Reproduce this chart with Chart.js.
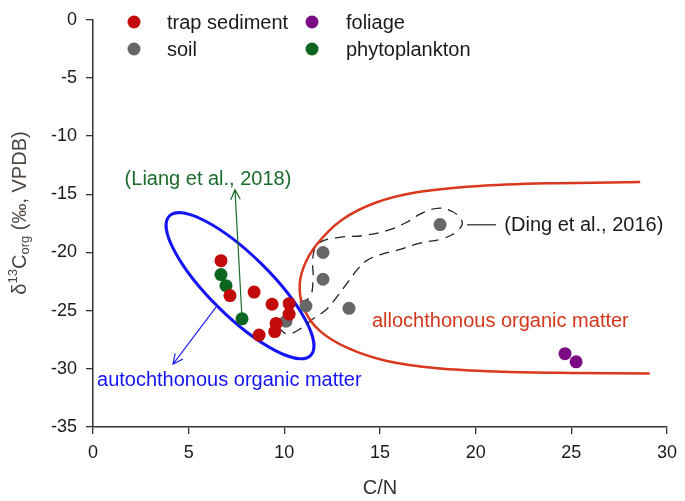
<!DOCTYPE html>
<html>
<head>
<meta charset="utf-8">
<script src="https://cdn.jsdelivr.net/npm/chart.js@4.4.0/dist/chart.umd.min.js"></script>
<style>
  html, body { margin: 0; padding: 0; background: #fff; }
  #wrap { width: 685px; height: 501px; }
</style>
</head>
<body>
<div id="wrap"><canvas id="chart"></canvas></div>
<script>
// values
const trapCN = [6.69, 7.16, 8.42, 9.36, 10.25, 10.25, 9.57, 9.5, 8.68];
const trapD13C = [-20.7, -23.7, -23.4, -24.45, -24.4, -25.3, -26.1, -26.8, -27.1];
const soilCN = [11.13, 10.09, 12.02, 12.02, 13.38, 18.14];
const soilD13C = [-24.6, -25.9, -20.0, -22.3, -24.8, -17.6];
const foliageCN = [24.67, 25.25];
const foliageD13C = [-28.7, -29.4];
const phytoCN = [6.69, 6.95, 7.79];
const phytoD13C = [-21.9, -22.85, -25.7];

// allochthonous boundary (red curve)
const alloCN = [28.6, 24.0, 20.0, 17.0, 14.8, 13.0, 11.7, 11.0, 10.8, 11.1, 11.9, 13.3, 15.3, 18.0, 21.5, 25.0, 29.1];
const alloD13C = [-13.95, -14.05, -14.3, -14.8, -15.7, -17.2, -19.3, -21.3, -23.2, -25.1, -26.8, -28.2, -29.3, -29.95, -30.25, -30.35, -30.4];

// Ding et al. soil envelope (dashed loop)
const dingCN = [9.67, 10.0, 10.6, 11.3, 11.5, 11.5, 11.8, 12.9, 14.1, 15.4, 16.4, 17.1, 18.0, 18.8, 19.3, 19.0, 18.3, 17.1, 15.9, 15.0, 14.3, 13.8, 13.3, 12.8, 12.2, 11.5, 10.8, 10.14, 9.67];
const dingD13C = [-26.4, -25.3, -24.4, -23.9, -22.5, -20.3, -19.2, -18.7, -18.55, -18.1, -17.4, -16.7, -16.2, -16.5, -17.4, -18.2, -18.8, -19.2, -19.8, -20.2, -20.7, -21.5, -22.6, -23.7, -24.9, -25.7, -26.6, -27.0, -26.4];

// autochthonous ellipse: ends of the long axis and one end of the short axis
const ellipseMajor = [[3.99, -16.86], [11.38, -28.84]];
const ellipseMinor = [8.83, -21.02];

const xTicks = [0, 5, 10, 15, 20, 25, 30];
const yTicks = [0, -5, -10, -15, -20, -25, -30, -35];

function pts(xs, ys) {
  return xs.map((x, i) => ({ x: x, y: ys[i] }));
}

const FONT = '"Liberation Sans", Arial, sans-serif';

const extras = {
  id: 'extras',
  beforeDatasetsDraw(chart) {
    const ctx = chart.ctx;
    const xs = chart.scales.x, ys = chart.scales.y;
    const px = v => xs.getPixelForValue(v), py = v => ys.getPixelForValue(v);
    // blue ellipse
    const a1 = [px(ellipseMajor[0][0]), py(ellipseMajor[0][1])];
    const a2 = [px(ellipseMajor[1][0]), py(ellipseMajor[1][1])];
    const cx = (a1[0] + a2[0]) / 2, cy = (a1[1] + a2[1]) / 2;
    const rx = Math.hypot(a2[0] - a1[0], a2[1] - a1[1]) / 2;
    const ry = Math.hypot(px(ellipseMinor[0]) - cx, py(ellipseMinor[1]) - cy);
    const rot = Math.atan2(a2[1] - a1[1], a2[0] - a1[0]);
    ctx.save();
    ctx.strokeStyle = '#1414f5';
    ctx.lineWidth = 3;
    ctx.beginPath();
    ctx.ellipse(cx, cy, rx, ry, rot, 0, Math.PI * 2);
    ctx.stroke();
    ctx.restore();
  },
  afterDatasetsDraw(chart) {
    const ctx = chart.ctx;
    const xs = chart.scales.x, ys = chart.scales.y;
    const px = v => xs.getPixelForValue(v), py = v => ys.getPixelForValue(v);

    function arrow(x1, y1, x2, y2, color) {
      const X1 = px(x1), Y1 = py(y1), X2 = px(x2), Y2 = py(y2);
      const ang = Math.atan2(Y2 - Y1, X2 - X1);
      ctx.save();
      ctx.strokeStyle = color;
      ctx.lineWidth = 1.2;
      ctx.beginPath();
      ctx.moveTo(X1, Y1);
      ctx.lineTo(X2, Y2);
      ctx.moveTo(X2 - 11 * Math.cos(ang - 0.45), Y2 - 11 * Math.sin(ang - 0.45));
      ctx.lineTo(X2, Y2);
      ctx.lineTo(X2 - 11 * Math.cos(ang + 0.45), Y2 - 11 * Math.sin(ang + 0.45));
      ctx.stroke();
      ctx.restore();
    }
    arrow(7.79, -25.7, 7.42, -14.6, '#1b6b2c');
    arrow(6.43, -24.7, 4.18, -29.6, '#2323f0');

    // Ding connector
    ctx.save();
    ctx.strokeStyle = '#222';
    ctx.lineWidth = 1.2;
    ctx.beginPath();
    ctx.moveTo(px(19.55), py(-17.62));
    ctx.lineTo(px(21.07), py(-17.62));
    ctx.stroke();

    ctx.font = '20px ' + FONT;
    ctx.textBaseline = 'middle';
    ctx.textAlign = 'center';
    ctx.fillStyle = '#1b6b2c';
    ctx.fillText('(Liang et al., 2018)', px(6.01), py(-13.74));
    ctx.textAlign = 'left';
    ctx.fillStyle = '#1414f5';
    ctx.fillText('autochthonous organic matter', px(0.21), py(-31.03));
    ctx.fillStyle = '#d3361b';
    ctx.fillText('allochthonous organic matter', px(14.58), py(-25.9));
    ctx.fillStyle = '#1a1a1a';
    ctx.fillText('(Ding et al., 2016)', px(21.5), py(-17.7));
    ctx.restore();
  },
  afterDraw(chart) {
    const ctx = chart.ctx;
    ctx.save();
    // legend (2 x 2)
    const items = [
      [0, 134, 22, 167], [2, 312, 22, 346],
      [1, 134, 49, 167], [3, 312, 49, 346]
    ];
    ctx.font = '20px ' + FONT;
    ctx.textBaseline = 'middle';
    ctx.textAlign = 'left';
    items.forEach(it => {
      const ds = chart.data.datasets[it[0]];
      ctx.fillStyle = ds.backgroundColor;
      ctx.beginPath();
      ctx.arc(it[1], it[2], 6.5, 0, Math.PI * 2);
      ctx.fill();
      ctx.fillStyle = '#1a1a1a';
      ctx.fillText(ds.label, it[3], it[2] + 1);
    });

    // x title
    ctx.textAlign = 'center';
    ctx.fillStyle = '#333';
    ctx.fillText('C/N', (chart.chartArea.left + chart.chartArea.right) / 2, 488);

    // y title with super/subscript
    ctx.translate(20, 213);
    ctx.rotate(-Math.PI / 2);
    ctx.fillStyle = '#4f4640';
    const big = '20px ' + FONT, small = '13px ' + FONT;
    const parts = [['δ', big, 0], ['13', small, -7], ['C', big, 0], ['org', small, 5], [' (‰, VPDB)', big, 0]];
    let total = 0;
    parts.forEach(p => { ctx.font = p[1]; total += ctx.measureText(p[0]).width; });
    let x = -total / 2;
    ctx.textAlign = 'left';
    parts.forEach(p => {
      ctx.font = p[1];
      ctx.fillText(p[0], x, p[2]);
      x += ctx.measureText(p[0]).width;
    });
    ctx.restore();
  }
};

const chart = new Chart(document.getElementById('chart'), {
  type: 'scatter',
  data: {
    datasets: [
      { label: 'trap sediment', data: pts(trapCN, trapD13C), backgroundColor: '#c20a0a', borderWidth: 0, pointRadius: 6.5 },
      { label: 'soil', data: pts(soilCN, soilD13C), backgroundColor: '#676767', borderWidth: 0, pointRadius: 6.5 },
      { label: 'foliage', data: pts(foliageCN, foliageD13C), backgroundColor: '#7d0a85', borderWidth: 0, pointRadius: 6.5 },
      { label: 'phytoplankton', data: pts(phytoCN, phytoD13C), backgroundColor: '#0b6620', borderWidth: 0, pointRadius: 6.5 },
      { label: 'allochthonous', data: pts(alloCN, alloD13C), showLine: true, borderColor: '#d9381e', borderWidth: 2.5, pointRadius: 0, tension: 0.35, fill: false },
      { label: 'Ding et al.', data: pts(dingCN, dingD13C), showLine: true, borderColor: '#222', borderWidth: 1.3, borderDash: [10, 7], pointRadius: 0, tension: 0.4, fill: false }
    ]
  },
  options: {
    responsive: true,
    maintainAspectRatio: false,
    animation: false,
    layout: { padding: { top: 12, right: 18, left: 0, bottom: 0 } },
    plugins: { legend: { display: false }, tooltip: { enabled: false } },
    scales: {
      x: {
        type: 'linear', min: 0, max: 30,
        afterBuildTicks: s => { s.ticks = xTicks.map(v => ({ value: v })); },
        afterFit: s => { s.height = 74; },
        grid: { drawOnChartArea: false, tickLength: 7, color: '#333', lineWidth: 1.3 },
        border: { color: '#333', width: 1.5 },
        ticks: { padding: 8, color: '#1a1a1a', font: { family: FONT, size: 18 } }
      },
      y: {
        type: 'linear', min: -35, max: 0,
        afterBuildTicks: s => { s.ticks = yTicks.map(v => ({ value: v })); },
        afterFit: s => { s.width = 93; },
        grid: { drawOnChartArea: false, tickLength: 7, color: '#333', lineWidth: 1.3 },
        border: { color: '#333', width: 1.5 },
        ticks: { padding: 9, color: '#1a1a1a', font: { family: FONT, size: 18 } }
      }
    }
  },
  plugins: [extras]
});
</script>
</body>
</html>
